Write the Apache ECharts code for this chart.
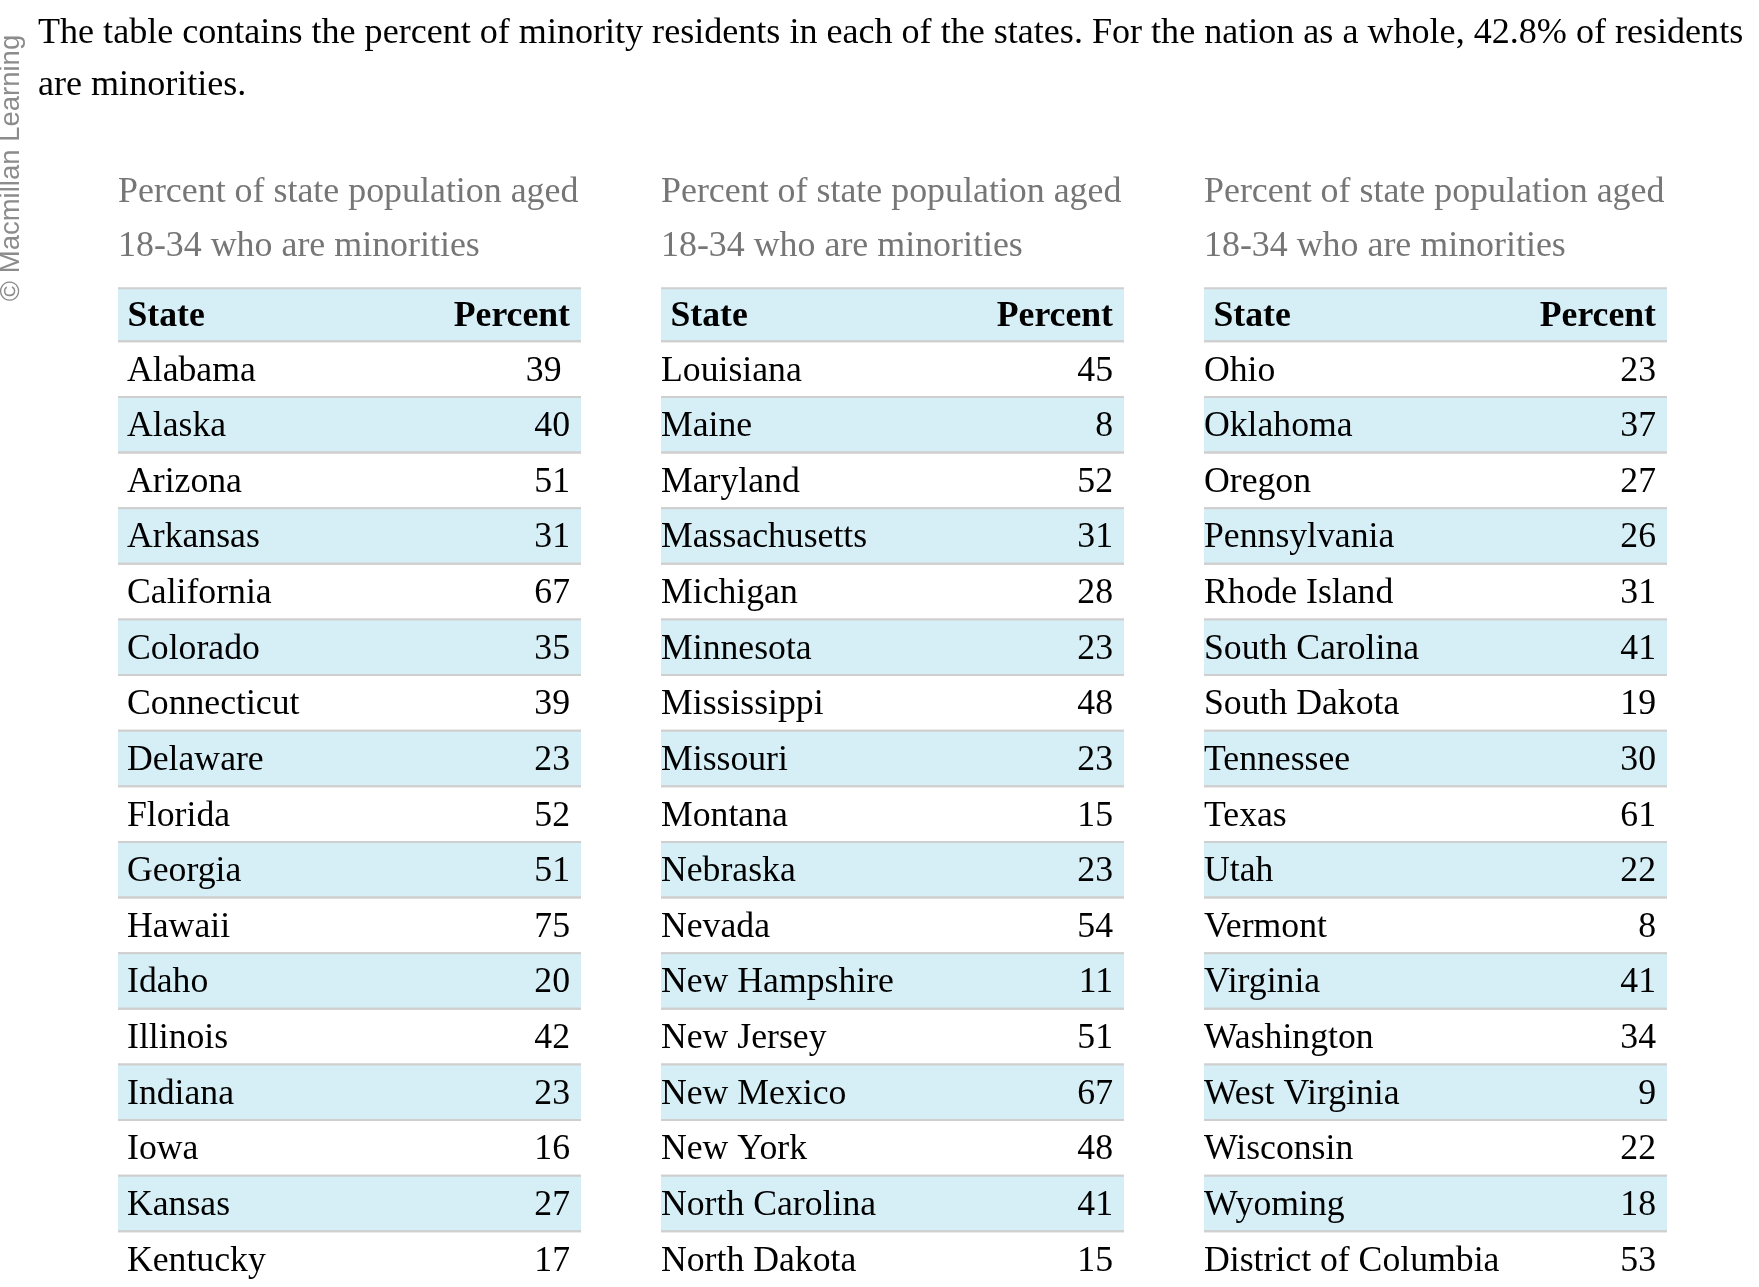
<!DOCTYPE html>
<html>
<head>
<meta charset="utf-8">
<script src="https://cdn.jsdelivr.net/npm/echarts@6/dist/echarts.min.js"></script>
<style>
  html, body { margin: 0; padding: 0; background: #ffffff; }
  #myChart { width: 1759px; height: 1287px; }
</style>
</head>
<body>
<div id="myChart"></div>
<script>
// Table data, one pair of arrays per column block
var headers = ['State', 'Percent'];

var states1 = ['Alabama', 'Alaska', 'Arizona', 'Arkansas', 'California', 'Colorado', 'Connecticut',
  'Delaware', 'Florida', 'Georgia', 'Hawaii', 'Idaho', 'Illinois', 'Indiana', 'Iowa', 'Kansas', 'Kentucky'];
var percent1 = [39, 40, 51, 31, 67, 35, 39, 23, 52, 51, 75, 20, 42, 23, 16, 27, 17];

var states2 = ['Louisiana', 'Maine', 'Maryland', 'Massachusetts', 'Michigan', 'Minnesota', 'Mississippi',
  'Missouri', 'Montana', 'Nebraska', 'Nevada', 'New Hampshire', 'New Jersey', 'New Mexico', 'New York',
  'North Carolina', 'North Dakota'];
var percent2 = [45, 8, 52, 31, 28, 23, 48, 23, 15, 23, 54, 11, 51, 67, 48, 41, 15];

var states3 = ['Ohio', 'Oklahoma', 'Oregon', 'Pennsylvania', 'Rhode Island', 'South Carolina', 'South Dakota',
  'Tennessee', 'Texas', 'Utah', 'Vermont', 'Virginia', 'Washington', 'West Virginia', 'Wisconsin', 'Wyoming',
  'District of Columbia'];
var percent3 = [23, 37, 27, 26, 31, 41, 19, 30, 61, 22, 8, 41, 34, 9, 22, 18, 53];

var introLines = [
  'The table contains the percent of minority residents in each of the states. For the nation as a whole, 42.8% of residents',
  'are minorities.'
];
var captionLines = ['Percent of state population aged', '18-34 who are minorities'];
var watermark = '\u00A9 Macmillan Learning';

// Layout / style settings
var SERIF = '"Liberation Serif", "Times New Roman", Times, serif';
var FONT_SIZE = 35.7;
var ROW_H = 56;
var TABLE_TOP = 285.7;
var TABLE_W = 463;
var tableLefts = [118, 661, 1204];
var namePads = [9, 0, 0];   // first block has a left inset on the state names
var BLUE = '#d6eff6';
var RULE = '#cfcfcf';

var tables = [
  { states: states1, values: percent1 },
  { states: states2, values: percent2 },
  { states: states3, values: percent3 }
];

var myChart = echarts.init(document.getElementById('myChart'));

var grids = [], xAxes = [], yAxes = [], series = [];

tables.forEach(function (t, k) {
  var cats = [headers[0]].concat(t.states);
  grids.push({ left: tableLefts[k], top: TABLE_TOP, width: TABLE_W, height: ROW_H * cats.length });
  xAxes.push({ gridIndex: k, type: 'value', min: 0, max: 1, show: false });
  yAxes.push({ gridIndex: k, type: 'category', data: cats, inverse: true, show: false });

  var rows = cats.map(function (c, i) { return [0, i]; });

  series.push({
    type: 'custom',
    xAxisIndex: k,
    yAxisIndex: k,
    data: rows,
    clip: false,
    renderItem: function (params, api) {
      var i = params.dataIndex;
      var l = api.coord([0, i]);
      var r = api.coord([1, i]);
      var h = api.size([0, 1])[1];
      var top = l[1] - h / 2;
      var bottom = l[1] + h / 2;
      var mid = l[1] + 2;
      var isHead = i === 0;
      var isLast = i === rows.length - 1;
      if (isHead) { top += 2.6; }
      var children = [];

      // alternating band: header, then every second state row
      if (i % 2 === 0) {
        children.push({ type: 'rect', shape: { x: l[0], y: top, width: r[0] - l[0], height: bottom - top },
          style: { fill: BLUE } });
      }
      // rules between rows
      children.push({ type: 'rect', shape: { x: l[0], y: top - 1, width: r[0] - l[0], height: 2 }, style: { fill: RULE } });
      if (!isLast) {
        children.push({ type: 'rect', shape: { x: l[0], y: bottom - 1, width: r[0] - l[0], height: 2 }, style: { fill: RULE } });
      }

      var name = isHead ? headers[0] : t.states[i - 1];
      var val = isHead ? headers[1] : String(t.values[i - 1]);
      var weight = isHead ? 'bold' : 'normal';
      var pad = isHead ? 9.5 : namePads[k];
      var rPad = 11 + ((k === 0 && i === 1) ? 8.5 : 0);
      var textMid = isHead ? mid + 1 : mid;

      children.push({ type: 'text', style: { x: l[0] + pad, y: textMid, text: name, fill: '#000',
        font: weight + ' ' + FONT_SIZE + 'px ' + SERIF, textAlign: 'left', textVerticalAlign: 'middle' } });
      children.push({ type: 'text', style: { x: r[0] - rPad, y: textMid, text: val, fill: '#000',
        font: weight + ' ' + FONT_SIZE + 'px ' + SERIF, textAlign: 'right', textVerticalAlign: 'middle' } });

      return { type: 'group', children: children };
    }
  });
});

// Paragraph, captions and watermark
var graphics = [];
introLines.forEach(function (line, j) {
  graphics.push({ type: 'text', left: 38, top: 16 + j * 51.6,
    style: { text: line, fill: '#000', font: '36.1px ' + SERIF } });
});
tableLefts.forEach(function (x) {
  captionLines.forEach(function (line, j) {
    graphics.push({ type: 'text', left: x, top: 175 + j * 54,
      style: { text: line, fill: '#767676', font: '35.9px ' + SERIF } });
  });
});
graphics.push({ type: 'text', x: 11, y: 168, rotation: Math.PI / 2,
  style: { text: watermark, fill: '#8c8c8c', font: '27.5px "Liberation Sans", Arial, sans-serif',
    textAlign: 'center', textVerticalAlign: 'middle' } });

var option = {
  animation: false,
  backgroundColor: '#ffffff',
  grid: grids,
  xAxis: xAxes,
  yAxis: yAxes,
  series: series,
  graphic: graphics
};

myChart.setOption(option);
</script>
</body>
</html>
